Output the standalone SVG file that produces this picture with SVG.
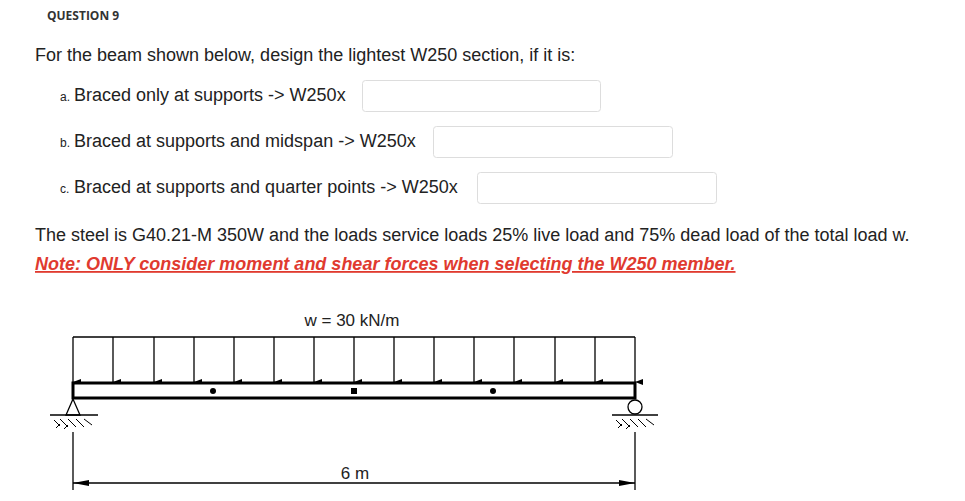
<svg xmlns="http://www.w3.org/2000/svg" width="965" height="501" viewBox="0 0 965 501">
<defs>
<style>
.t{font-family:"Liberation Sans",Arial,sans-serif;font-size:18px;fill:#222}
.s{font-family:"Liberation Sans",Arial,sans-serif;font-size:12px;fill:#222}
.box{fill:#fff;stroke:#ddd;stroke-width:1}
.ln{stroke:#000;stroke-width:1.3;fill:none}
.th{stroke:#000;stroke-width:3;fill:none}
</style>
<marker id="ah" viewBox="0 0 6 8" refX="3" refY="8" markerWidth="6" markerHeight="8" markerUnits="userSpaceOnUse" orient="auto-start-reverse"><path d="M0,0L6,0L3,8Z" fill="#000"/></marker>
</defs>
<rect width="965" height="501" fill="#fff"/>
<text x="47" y="20" font-family="'Open Sans',sans-serif" font-size="12" font-weight="bold" fill="#333">QUESTION 9</text>
<text class="t" x="35" y="61">For the beam shown below, design the lightest W250 section, if it is:</text>
<g id="qa"><text class="s" x="60" y="101">a.</text><text class="t" x="74" y="101">Braced only at supports -&gt; W250x</text><rect class="box" x="362.5" y="80.5" width="238" height="31" rx="3"/></g>
<g id="qb"><text class="s" x="60" y="147">b.</text><text class="t" x="74" y="147">Braced at supports and midspan -&gt; W250x</text><rect class="box" x="433.5" y="126.5" width="239" height="31" rx="3"/></g>
<g id="qc"><text class="s" x="60" y="193">c.</text><text class="t" x="74" y="193">Braced at supports and quarter points -&gt; W250x</text><rect class="box" x="477.5" y="172.5" width="239" height="31" rx="3"/></g>
<text class="t" x="35" y="241">The steel is G40.21-M 350W and the loads service loads 25% live load and 75% dead load of the total load w.</text>
<text x="35" y="270" font-family="'Liberation Sans',Arial,sans-serif" font-size="18" font-weight="bold" font-style="italic" fill="#e03a2f" text-decoration="underline">Note: ONLY consider moment and shear forces when selecting the W250 member.</text>
<text x="352" y="326" text-anchor="middle" font-family="'Liberation Sans',Arial,sans-serif" font-size="17" fill="#222">w = 30 kN/m</text>
<g id="load">
<line class="ln" x1="73" y1="337" x2="635" y2="337"/>
<g marker-end="url(#ah)" class="ln">
<line x1="73" y1="337" x2="73" y2="382"/><line x1="113" y1="337" x2="113" y2="382"/><line x1="154" y1="337" x2="154" y2="382"/><line x1="194" y1="337" x2="194" y2="382"/><line x1="234" y1="337" x2="234" y2="382"/><line x1="274" y1="337" x2="274" y2="382"/><line x1="314" y1="337" x2="314" y2="382"/><line x1="354" y1="337" x2="354" y2="382"/><line x1="394" y1="337" x2="394" y2="382"/><line x1="434" y1="337" x2="434" y2="382"/><line x1="474" y1="337" x2="474" y2="382"/><line x1="514" y1="337" x2="514" y2="382"/><line x1="555" y1="337" x2="555" y2="382"/><line x1="595" y1="337" x2="595" y2="382"/><line x1="635" y1="337" x2="635" y2="382"/>
</g>
</g>
<g id="beam">
<rect x="73" y="383" width="562" height="15" fill="#fff" stroke="#000" stroke-width="3"/>
<circle cx="213" cy="391" r="3" fill="#000"/>
<rect x="351" y="388" width="6" height="6" fill="#000"/>
<circle cx="493" cy="391" r="3" fill="#000"/>
</g>
<g id="supL">
<path class="ln" d="M73,399 L66,415 L80,415 Z"/>
<line class="ln" x1="50" y1="415" x2="98" y2="415"/>
<path stroke="#000" stroke-width="1" d="M54,420l6,6M60,419l8,8M68,419l8,8M76,419l8,8M84,419l8,6M56,428l4,-4M64,429l4,-4"/>
</g>
<g id="supR">
<circle class="ln" cx="635" cy="407" r="7"/>
<line class="ln" x1="612" y1="415" x2="658" y2="415"/>
<path stroke="#000" stroke-width="1" d="M616,420l6,6M622,419l8,8M630,419l8,8M638,419l8,8M646,419l8,6M618,428l4,-4M626,429l4,-4"/>
</g>
<g id="dim">
<line class="ln" x1="73" y1="432" x2="73" y2="490"/>
<line class="ln" x1="635" y1="432" x2="635" y2="490"/>
<line class="ln" x1="73" y1="483" x2="635" y2="483"/>
<path d="M73,483l16,-3v6z M635,483l-16,-3v6z" fill="#000"/>
<text x="355" y="479" text-anchor="middle" font-family="'Liberation Sans',Arial,sans-serif" font-size="17" fill="#222">6 m</text>
</g>
</svg>
